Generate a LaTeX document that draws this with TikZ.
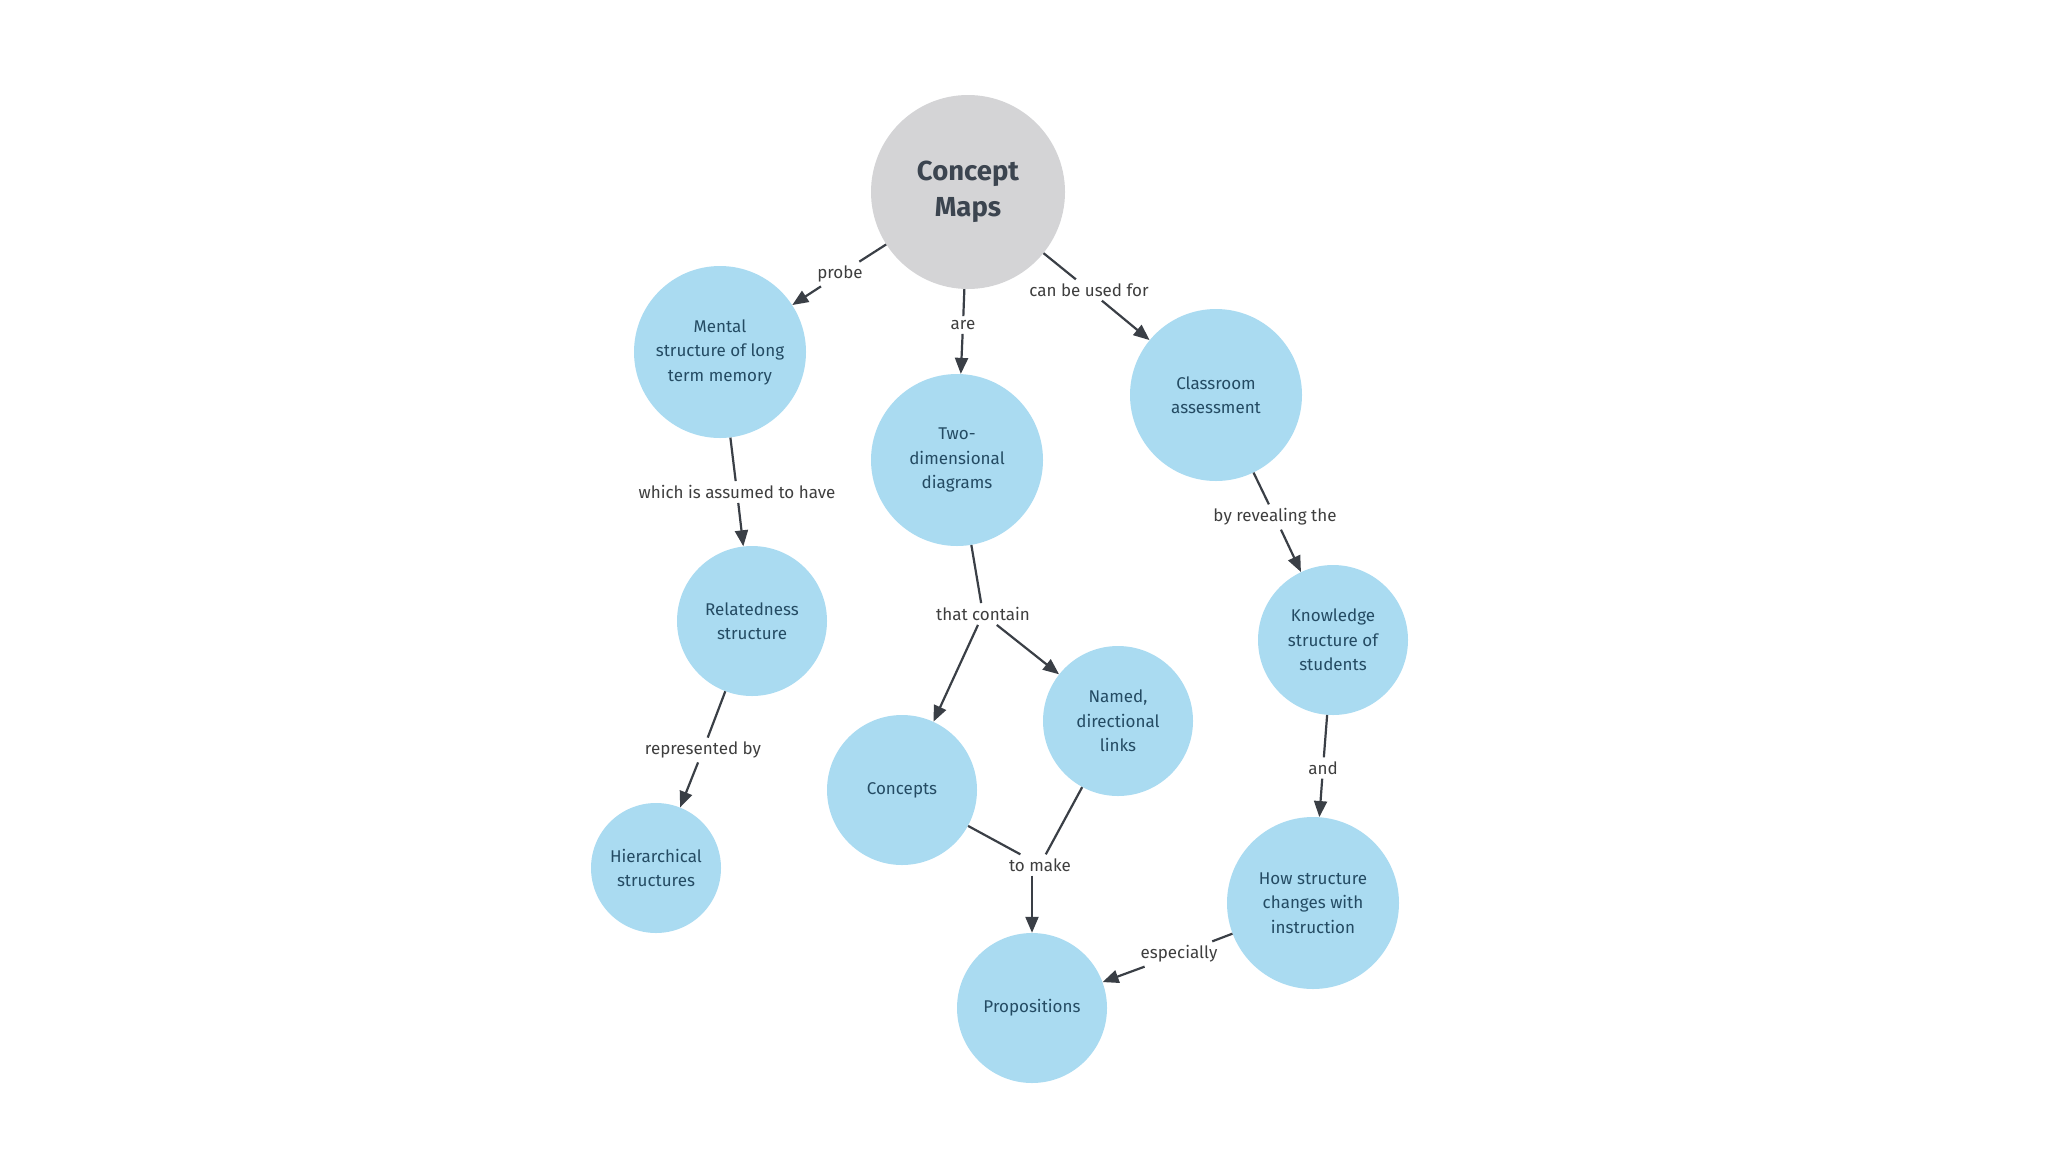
\documentclass[tikz,border=0pt]{standalone}
\usepackage{fontspec}
\setmainfont{Fira Sans}
\usetikzlibrary{arrows.meta}

\definecolor{bubble}{HTML}{AADBF1}
\definecolor{rootfill}{HTML}{D4D4D6}
\definecolor{bubbletext}{HTML}{244B63}
\definecolor{roottext}{HTML}{3C4550}
\definecolor{edge}{HTML}{3A3F46}
\definecolor{labeltext}{HTML}{3E3E3E}

\begin{document}
\begin{tikzpicture}[x=1pt, y=-1pt,
    concept/.style={circle, fill=bubble, text=bubbletext, align=center, inner sep=0pt,
        minimum size=#1, font=\fontsize{17}{24.5}\selectfont},
    concept/.default=172,
    root/.style={circle, fill=rootfill, text=roottext, align=center, inner sep=0pt,
        minimum size=194, font=\fontsize{27.5}{36}\selectfont\bfseries},
    linklabel/.style={rectangle, inner sep=4pt, text=labeltext, font=\fontsize{17}{24}\selectfont},
    link/.style={draw=edge, line width=2.2pt},
    arrow/.style={link, -{Triangle[length=16pt, width=13pt]}}]

    \useasboundingbox (0,0) rectangle (2048,1152);

    % concepts
    \node[root] (maps) at (968,192) {Concept\\Maps};
    \node[concept] (mental) at (720,352) {Mental\\structure of long\\term memory};
    \node[concept] (twodim) at (957,460) {Two-\\dimensional\\diagrams};
    \node[concept] (classroom) at (1216,395) {Classroom\\assessment};
    \node[concept=150] (related) at (752,621) {Relatedness\\structure};
    \node[concept=150] (knowledge) at (1333,640) {Knowledge\\structure of\\students};
    \node[concept=150] (links) at (1118,721) {Named,\\directional\\links};
    \node[concept=150] (concepts) at (902,790) {Concepts};
    \node[concept=130] (hier) at (656,868) {Hierarchical\\structures};
    \node[concept] (howchange) at (1313,903) {How structure\\changes with\\instruction};
    \node[concept=150] (props) at (1032,1008) {Propositions};

    % linking words
    \node[linklabel] (probe) at (840,274) {probe};
    \node[linklabel] (are) at (963,325) {are};
    \node[linklabel] (usedfor) at (1089,290) {can be used for};
    \node[linklabel] (assumed) at (737,492) {which is assumed to have};
    \node[linklabel] (contain) at (983,614) {that contain};
    \node[linklabel] (revealing) at (1275,517) {by revealing the};
    \node[linklabel] (representedby) at (703,750) {represented by};
    \node[linklabel] (and) at (1323,768) {and};
    \node[linklabel] (tomake) at (1040,865) {to make};
    \node[linklabel] (especially) at (1179,954) {especially};

    \draw[link] (maps) -- (probe);
    \draw[arrow] (probe) -- (mental);
    \draw[link] (maps) -- (are);
    \draw[arrow] (are) -- (twodim);
    \draw[link] (maps) -- (usedfor);
    \draw[arrow] (usedfor) -- (classroom);

    \draw[link] (mental) -- (assumed);
    \draw[arrow] (assumed) -- (related);
    \draw[link] (related) -- (representedby);
    \draw[arrow] (representedby) -- (hier);

    \draw[link] (twodim) -- (contain);
    \draw[arrow] (contain) -- (concepts);
    \draw[arrow] (contain) -- (links);

    \draw[link] (concepts) -- (tomake);
    \draw[link] (links) -- (tomake);
    \draw[arrow] (tomake.south -| props.north) -- (props.north);

    \draw[link] (classroom) -- (revealing);
    \draw[arrow] (revealing) -- (knowledge);
    \draw[link] (knowledge) -- (and);
    \draw[arrow] (and) -- (howchange);
    \draw[link] (howchange) -- (especially);
    \draw[arrow] (especially) -- (props);

\end{tikzpicture}
\end{document}
